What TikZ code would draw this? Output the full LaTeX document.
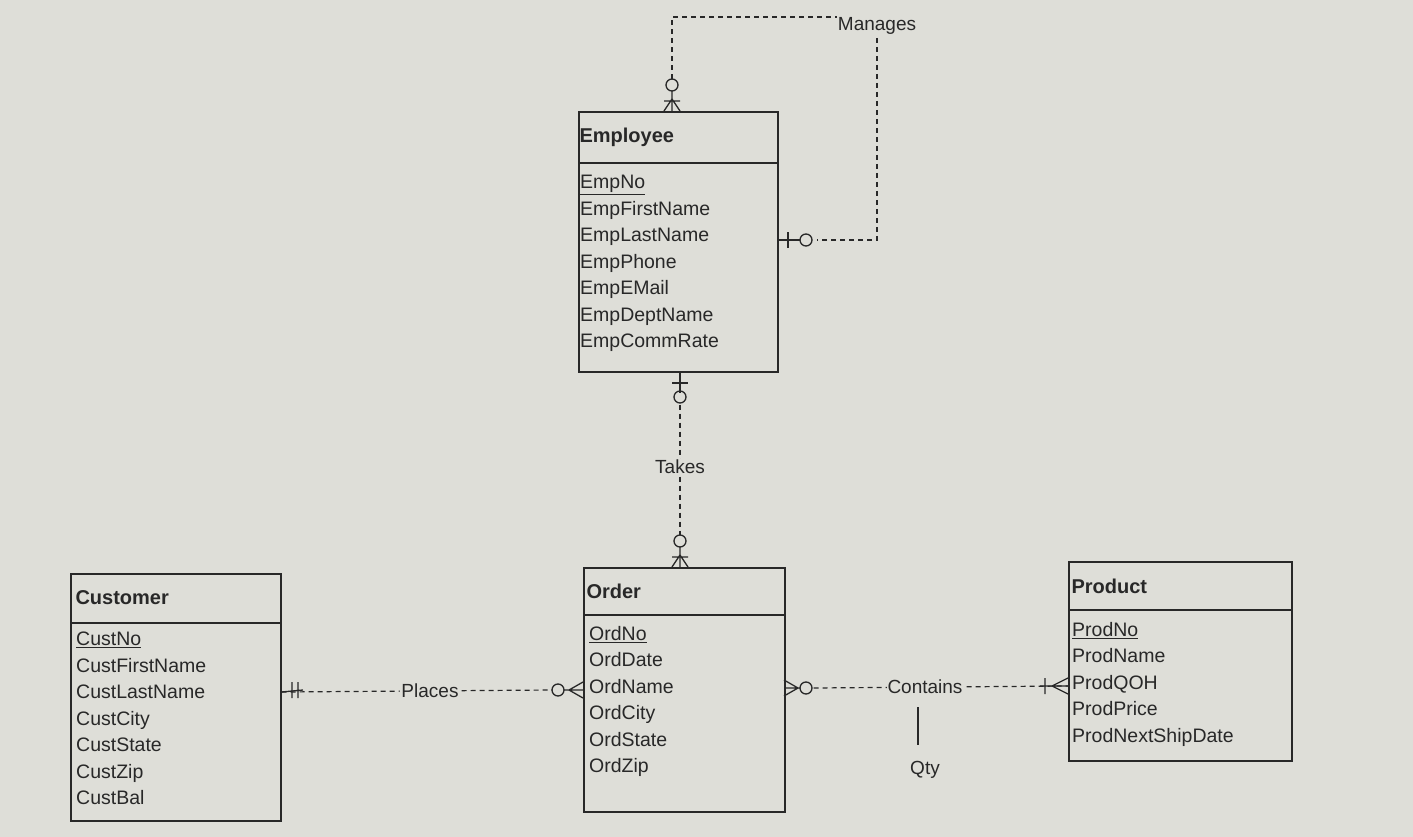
\documentclass[tikz,border=0pt]{standalone}
\usepackage{fontspec}
\setmainfont{Liberation Sans}
\usetikzlibrary{calc}
\definecolor{bg}{RGB}{222,222,216}
\definecolor{ink}{RGB}{40,40,40}
\begin{document}
\begin{tikzpicture}[x=1pt,y=-1pt,
  box/.style={draw=ink,line width=1.6pt,anchor=north west,inner sep=0pt},
  ttl/.style={anchor=west,font=\fontsize{20}{22}\selectfont\bfseries,text=ink},
  attr/.style={anchor=north west,align=left,font=\fontsize{19.5}{26.5}\selectfont,text=ink,inner sep=0pt},
  rel/.style={draw=ink,line width=1.2pt,dashed,dash pattern=on 5pt off 4pt},
  sym/.style={draw=ink,line width=1.3pt},
  lbl/.style={font=\fontsize{19}{22}\selectfont,text=ink,fill=bg,inner sep=1pt}]
\fill[bg] (0,0) rectangle (1413,837);
\useasboundingbox (0,0) rectangle (1413,837);
% Employee
\node[box,minimum width=199pt,minimum height=260pt] (emp) at (578,111) {};
\draw[sym,line width=1.6pt] (578,163) -- (777,163);
\node[ttl] (empt) at (576,137) {Employee};
\node[attr] (empa) at (580,175) {\underline{EmpNo}\\EmpFirstName\\EmpLastName\\EmpPhone\\EmpEMail\\EmpDeptName\\EmpCommRate};
% Customer
\node[box,minimum width=210pt,minimum height=247pt] (cus) at (70,573) {};
\draw[sym,line width=1.6pt] (70,623) -- (280,623);
\node[ttl] (cust) at (72,598) {Customer};
\node[attr] (cusa) at (76,632) {\underline{CustNo}\\CustFirstName\\CustLastName\\CustCity\\CustState\\CustZip\\CustBal};
% Order
\node[box,minimum width=201pt,minimum height=244pt] (ord) at (583,567) {};
\draw[sym,line width=1.6pt] (583,615) -- (784,615);
\node[ttl] (ordt) at (583,591) {Order};
\node[attr] (orda) at (589,626) {\underline{OrdNo}\\OrdDate\\OrdName\\OrdCity\\OrdState\\OrdZip};
% Product
\node[box,minimum width=223pt,minimum height=199pt] (pro) at (1068,561) {};
\draw[sym,line width=1.6pt] (1068,610) -- (1291,610);
\node[ttl] (prot) at (1068,586) {Product};
\node[attr] (proa) at (1072,622) {\underline{ProdNo}\\ProdName\\ProdQOH\\ProdPrice\\ProdNextShipDate};
% Manages
\coordinate (m1) at ($(emp.north west)+(94,0)$);
\coordinate (m2) at ($(emp.north east)+(0,129)$);
\draw[rel] ($(m1)+(0,-32)$) -- (672,17) -- (877,17) -- (877,240) -- ($(m2)+(38,0)$);
\node[lbl] (man) at (877,26) {Manages};
\draw[sym] (672,91) -- (m1) (664,111) -- (672,99) -- (680,111) (664,101)--(680,101);
\draw[sym] (672,85) circle[radius=6pt];
\draw[sym] (m2) -- (800,240) (788,232) -- (788,248);
\draw[sym] (806,240) circle[radius=6pt];
% Takes
\coordinate (t1) at ($(emp.south west)+(102,0)$);
\coordinate (t2) at ($(ord.north west)+(97,0)$);
\draw[rel] ($(t1)+(0,32)$) -- ($(t2)+(0,-32)$);
\draw[sym] (t1) -- ($(t1)+(0,20)$) (672,383) -- (688,383);
\draw[sym] (680,397) circle[radius=6pt];
\node[lbl] (tak) at (680,467) {Takes};
\draw[sym] (680,547) -- (t2) (672,567) -- (680,555) -- (688,567) (672,557)--(688,557);
\draw[sym] (680,541) circle[radius=6pt];
% Places
\coordinate (p1) at ($(cus.north east)+(0,119)$);
\coordinate (p2) at ($(ord.north west)+(0,123)$);
\draw[rel] (p1) -- ($(p2)+(-31,0)$);
\draw[sym] (p1) -- (303,690) (292,682)--(292,698) (298,682)--(298,698);
\node[lbl] (pla) at (430,691) {Places};
\draw[sym] (564,690) -- (p2) (583,682) -- (569,690) -- (583,698);
\draw[sym] (558,690) circle[radius=6pt];
% Contains
\coordinate (c1) at ($(ord.north east)+(0,121)$);
\coordinate (c2) at ($(pro.north west)+(0,125)$);
\draw[rel] ($(c1)+(28,0)$) -- (c2);
\draw[sym] (c1) -- (800,688) (784,680) -- (798,688) -- (784,696);
\draw[sym] (806,688) circle[radius=6pt];
\draw[sym] (1040,686) -- (c2) (1045,678)--(1045,694) (1068,678) -- (1052,686) -- (1068,694);
\node[lbl] (con) at (925,687) {Contains};
\draw[sym] (918,707) -- (918,745);
\node[lbl,fill=none] (qty) at (925,770) {Qty};
\end{tikzpicture}
\end{document}
